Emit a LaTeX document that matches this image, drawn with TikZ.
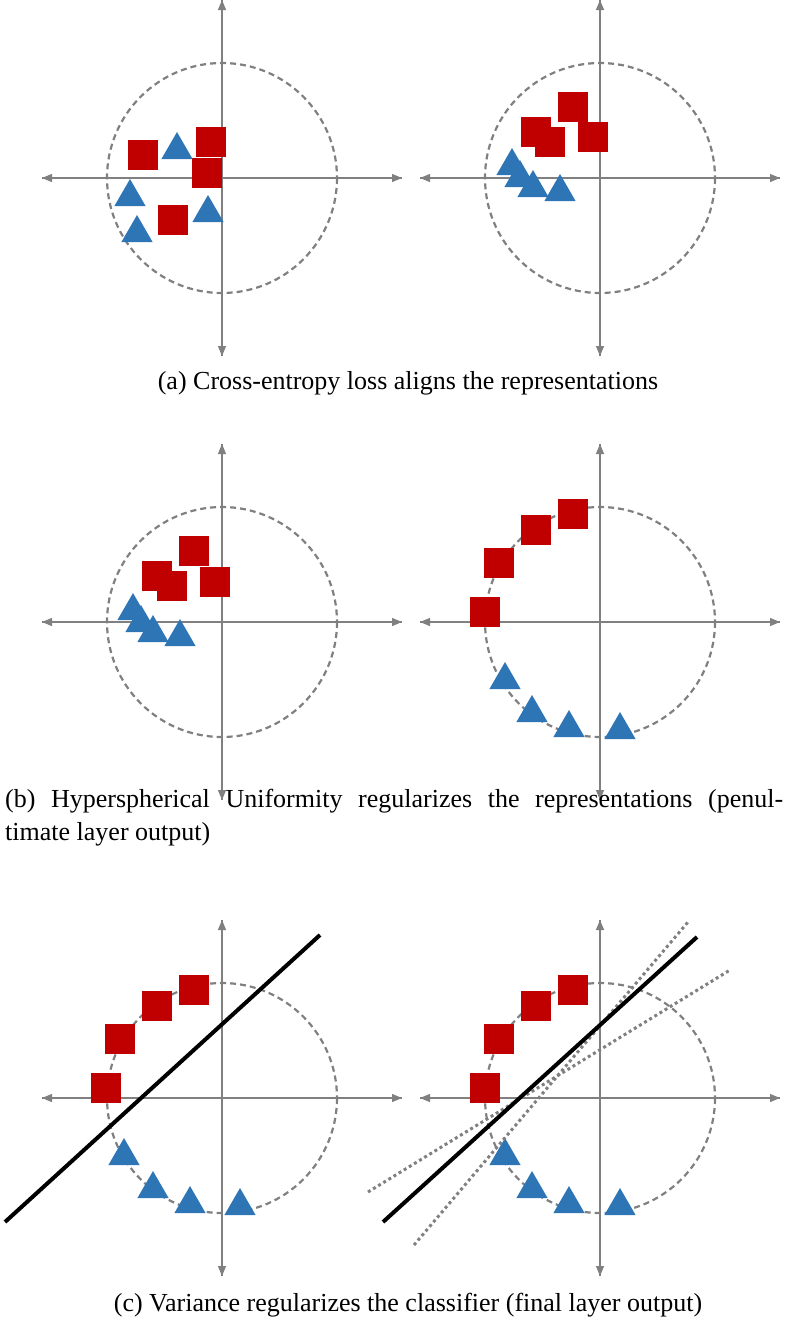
\documentclass[tikz,border=0pt]{standalone}
\usepackage{fontspec}
\setmainfont{Liberation Serif}
\usetikzlibrary{arrows.meta,shapes.geometric}
\definecolor{sq}{HTML}{C00000}
\definecolor{tr}{HTML}{2E75B6}
\definecolor{ax}{HTML}{808080}
\tikzset{
 axis/.style={draw=ax,line width=1.2pt,-{Triangle[length=10pt,width=8pt]}},
 ring/.style={draw=ax,line width=2.2pt,dash pattern=on 6pt off 4pt},
 sqm/.style={fill=sq,minimum size=30pt,inner sep=0pt,draw=none},
 trm/.style={fill=tr,regular polygon,regular polygon sides=3,minimum size=36pt,inner sep=0pt},
 sep/.style={line width=4pt,black},
 alt/.style={line width=3pt,ax,dash pattern=on 3pt off 3pt},
 captext/.style={font=\fontsize{26}{33}\selectfont}
}
\newcommand{\frameat}[2]{%
 \draw[axis] (#1-180,#2) -- (#1+180,#2);
 \draw[axis] (#1+180,#2) -- (#1-180,#2);
 \draw[axis] (#1,#2-178) -- (#1,#2+178);
 \draw[axis] (#1,#2+178) -- (#1,#2-178);
 \draw[ring] (#1,#2) circle (115);}
\begin{document}
\begin{tikzpicture}[x=1pt,y=-1pt]
\useasboundingbox (0,0) rectangle (786,1320);
\frameat{222}{178}\frameat{600}{178}
\frameat{222}{622}\frameat{600}{622}
\frameat{222}{1098}\frameat{600}{1098}
% a left
\foreach \p/\q [count=\i] in {143/155,211/142,207/173,173/220} \node[sqm] (al\i) at (\p,\q) {};
\foreach \p/\q [count=\i] in {177/150,130/197,137/233,208/213} \node[trm] (bl\i) at (\p,\q) {};
% a right
\foreach \p/\q [count=\i] in {573/107,536/132,550/142,593/137} \node[sqm] (ar\i) at (\p,\q) {};
\foreach \p/\q [count=\i] in {512/166,520/178,533/188,560/192} \node[trm] (br\i) at (\p,\q) {};
% b left
\foreach \p/\q [count=\i] in {194/551,157/576,172/586,215/582} \node[sqm] (cl\i) at (\p,\q) {};
\foreach \p/\q [count=\i] in {133/611,141/623,153/633,180/637} \node[trm] (dl\i) at (\p,\q) {};
% b right
\foreach \p/\q [count=\i] in {573/514,536/530,499/563,485/612} \node[sqm] (cr\i) at (\p,\q) {};
\foreach \p/\q [count=\i] in {505/680,532/713,569/728,620/730} \node[trm] (dr\i) at (\p,\q) {};
% c left
\foreach \p/\q [count=\i] in {194/990,157/1006,120/1039,106/1088} \node[sqm] (el\i) at (\p,\q) {};
\foreach \p/\q [count=\i] in {124/1156,153/1189,190/1204,240/1206} \node[trm] (fl\i) at (\p,\q) {};
% c right
\foreach \p/\q [count=\i] in {573/990,536/1006,499/1039,485/1088} \node[sqm] (er\i) at (\p,\q) {};
\foreach \p/\q [count=\i] in {505/1156,532/1189,569/1204,620/1206} \node[trm] (fr\i) at (\p,\q) {};
% separators
\coordinate (s1a) at (5,1222); \coordinate (s1b) at (320,935);
\draw[sep] (s1a) -- (s1b);
\coordinate (d1a) at (368,1192); \coordinate (d1b) at (730,970);
\coordinate (d2a) at (414,1245); \coordinate (d2b) at (688,922);
\draw[alt] (d1a) -- (d1b);
\draw[alt] (d2a) -- (d2b);
\coordinate (s2a) at (383,1222); \coordinate (s2b) at (697,937);
\draw[sep] (s2a) -- (s2b);
% captions
\node[captext] (ca) at (408,383) {(a) Cross-entropy loss aligns the representations};
\node[captext,anchor=west,inner sep=0pt,align=justify,text width=778pt] (cb) at (5,818) {(b) Hyperspherical Uniformity regularizes the representations (penul-\linebreak timate layer output)};
\node[captext] (cc) at (408,1305) {(c) Variance regularizes the classifier (final layer output)};
\end{tikzpicture}
\end{document}
